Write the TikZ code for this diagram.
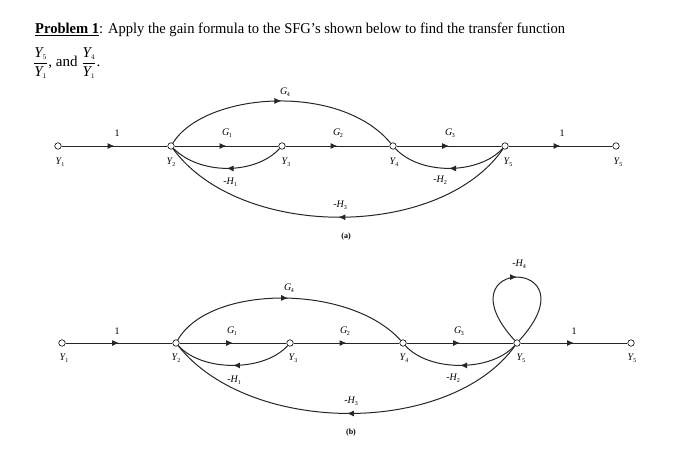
\documentclass[tikz,border=0pt]{standalone}
\usepackage{fontspec}
\setmainfont{Liberation Serif}
\usetikzlibrary{decorations.markings,arrows.meta}
\newcommand{\nl}[2]{\textit{#1}\kern-0.5pt\raisebox{-0.45ex}{\fontsize{6}{6}\selectfont #2}}
\begin{document}
\begin{tikzpicture}[x=1pt,y=-1pt,
  sn/.style={circle,draw,fill=white,minimum size=6.5pt,inner sep=0pt,line width=0.6pt},
  br/.style={line width=1pt,draw=black!85,postaction={decorate},decoration={markings,mark=at position 0.5 with {\arrow{Latex[length=7pt,width=6pt]}}}},
  lb/.style={font=\fontsize{10}{11}\selectfont,inner sep=0pt},
  ttl/.style={font=\fontsize{15}{17}\selectfont,inner sep=0pt,anchor=west}]
\useasboundingbox (0,0) rectangle (700,471);
\node[ttl,xscale=0.97] (title) at (35,30) {\textbf{\underline{Problem 1}}: Apply the gain formula to the SFG's shown below to find the transfer function};
\node[ttl] (frac) at (33,63) {\(\displaystyle\frac{\textit{Y}_{\scriptscriptstyle 5}}{\textit{Y}_{\scriptscriptstyle 1}}\), and \(\displaystyle\frac{\textit{Y}_{\scriptscriptstyle 4}}{\textit{Y}_{\scriptscriptstyle 1}}\).};
% ---- (a)
\foreach \n/\x in {a1/58,a2/171,a3/282,a4/393,a5/505,a6/616}{\node[sn] (\n) at (\x,146) {};}
\draw[br] (a1) -- (a2);
\draw[br] (a2) -- (a3);
\draw[br] (a3) -- (a4);
\draw[br] (a4) -- (a5);
\draw[br] (a5) -- (a6);
\draw[br] (a2) .. controls (205,92) and (340,82) .. (a4);
\draw[br] (a3) .. controls (255,175) and (200,175) .. (a2);
\draw[br] (a5) .. controls (478,175) and (420,175) .. (a4);
\draw[br] (a5) .. controls (440,240) and (240,240) .. (a2);
\node[lb] (la1) at (60,162) {\nl{Y}{1}};
\node[lb] (la2) at (171,162) {\nl{Y}{2}};
\node[lb] (la3) at (286,162) {\nl{Y}{3}};
\node[lb] (la4) at (394,162) {\nl{Y}{4}};
\node[lb] (la5) at (508,162) {\nl{Y}{5}};
\node[lb] (la6) at (618,162) {\nl{Y}{5}};
\node[lb] (ea1) at (117,133) {1};
\node[lb] (ea2) at (227,133) {\nl{G}{1}};
\node[lb] (ea3) at (338,133) {\nl{G}{2}};
\node[lb] (ea4) at (450,133) {\nl{G}{3}};
\node[lb] (ea5) at (562,133) {1};
\node[lb] (ea6) at (285,92) {\nl{G}{4}};
\node[lb] (ea7) at (230,182) {-\nl{H}{1}};
\node[lb] (ea8) at (440,180) {-\nl{H}{2}};
\node[lb] (ea9) at (340,205) {-\nl{H}{3}};
\node[lb,font=\fontsize{8}{9}\selectfont\bfseries] (capa) at (346,237) {(a)};
% ---- (b)
\foreach \n/\x in {b1/62,b2/176,b3/290,b4/403,b5/517,b6/631}{\node[sn] (\n) at (\x,343) {};}
\draw[br] (b1) -- (b2);
\draw[br] (b2) -- (b3);
\draw[br] (b3) -- (b4);
\draw[br] (b4) -- (b5);
\draw[br] (b5) -- (b6);
\draw[br] (b2) .. controls (210,284) and (350,284) .. (b4);
\draw[br] (b3) .. controls (264,372) and (202,372) .. (b2);
\draw[br] (b5) .. controls (491,372) and (429,372) .. (b4);
\draw[br] (b5) .. controls (450,436) and (250,436) .. (b2);
\draw[br] (b5) .. controls (438,256) and (596,256) .. (b5);
\node[lb] (lb1) at (64,358) {\nl{Y}{1}};
\node[lb] (lb2) at (176,358) {\nl{Y}{2}};
\node[lb] (lb3) at (293,358) {\nl{Y}{3}};
\node[lb] (lb4) at (404,358) {\nl{Y}{4}};
\node[lb] (lb5) at (521,358) {\nl{Y}{5}};
\node[lb] (lb6) at (632,358) {\nl{Y}{5}};
\node[lb] (eb1) at (117,331) {1};
\node[lb] (eb2) at (232,331) {\nl{G}{1}};
\node[lb] (eb3) at (345,331) {\nl{G}{2}};
\node[lb] (eb4) at (459,331) {\nl{G}{3}};
\node[lb] (eb5) at (574,331) {1};
\node[lb] (eb6) at (289,288) {\nl{G}{4}};
\node[lb] (eb7) at (234,380) {-\nl{H}{1}};
\node[lb] (eb8) at (453,378) {-\nl{H}{2}};
\node[lb] (eb9) at (351,401) {-\nl{H}{3}};
\node[lb] (eb10) at (519,264) {-\nl{H}{4}};
\node[lb,font=\fontsize{8}{9}\selectfont\bfseries] (capb) at (351,433) {(b)};
\end{tikzpicture}
\end{document}
